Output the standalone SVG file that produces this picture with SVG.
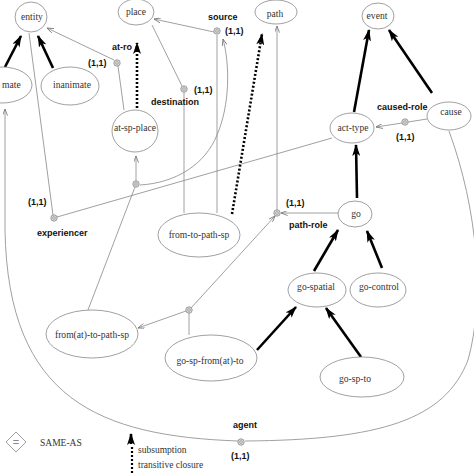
<svg xmlns="http://www.w3.org/2000/svg" width="474" height="474" viewBox="0 0 474 474">
<style>
.node ellipse{fill:#fff;stroke:#888;stroke-width:0.8}
.node text{font-family:"Liberation Serif",serif;font-size:9.6px;fill:#333;text-anchor:middle}
.role circle.o{fill:#ddd;stroke:#888;stroke-width:0.8}
.role circle.i{fill:none;stroke:#888;stroke-width:0.6}
.lbl{font-family:"Liberation Sans",sans-serif;font-weight:bold;font-size:9px;fill:#111}
.thin{fill:none;stroke:#888;stroke-width:0.8}
.thina{fill:none;stroke:#888;stroke-width:0.8;marker-end:url(#thin)}
.thick{fill:none;stroke:#000;stroke-width:2.6;marker-end:url(#thick)}
.dot{fill:none;stroke:#000;stroke-width:2.6;stroke-dasharray:2 2;marker-end:url(#thick)}
.leg{font-family:"Liberation Serif",serif;font-size:9.5px;fill:#333}
</style>
<defs>
<marker id="thick" viewBox="0 0 12 8" refX="11" refY="4" markerWidth="12" markerHeight="8" markerUnits="userSpaceOnUse" orient="auto"><path d="M0,0 L12,4 L0,8 L3,4 z" fill="#000"/></marker>
<marker id="thin" viewBox="0 0 8 6" refX="8" refY="3" markerWidth="7" markerHeight="5" markerUnits="userSpaceOnUse" orient="auto"><path d="M0,0 L8,3 L0,6" fill="none" stroke="#777" stroke-width="1"/></marker>
</defs>
<rect width="474" height="474" fill="#fff"/>

<g id="connectors">
<line class="thina" x1="114" y1="60" x2="47" y2="28"/>
<line class="thin" x1="124" y1="110" x2="118" y2="66"/>
<line class="thina" x1="214" y1="32" x2="154" y2="19"/>
<line class="thin" x1="182" y1="86" x2="152" y2="25"/>
<line class="thin" x1="184" y1="92" x2="184" y2="213"/>
<line class="thin" x1="217" y1="35" x2="217" y2="213"/>
<line class="thina" x1="277" y1="210" x2="277" y2="26"/>
<line class="thin" x1="57" y1="217" x2="332" y2="138"/>
<line class="thin" x1="53" y1="215" x2="29" y2="33"/>
<line class="thina" x1="136" y1="181" x2="136" y2="156"/>
<path class="thina" d="M140,185 C175,183 205,165 217,135 C230,105 230,65 223,39"/>
<line class="thin" x1="88" y1="310" x2="135" y2="187"/>
<line class="thina" x1="338" y1="213" x2="281" y2="213"/>
<line class="thina" x1="191" y1="308" x2="275" y2="216"/>
<line class="thina" x1="186" y1="311" x2="138" y2="328"/>
<line class="thin" x1="189" y1="335" x2="189" y2="313"/>
<line class="thin" x1="427" y1="119" x2="408" y2="122"/>
<line class="thina" x1="402" y1="123" x2="376" y2="127"/>
<path class="thina" d="M238,441 C100,436 8,400 5,230 L5,109"/>
<path class="thin" d="M449,131 C478,210 485,300 468,360 C445,420 380,440 245,441"/>

<line class="thick" x1="5" y1="67" x2="21" y2="36"/>
<line class="thick" x1="53" y1="68" x2="38" y2="36"/>
<line class="thick" x1="354" y1="112" x2="369" y2="30"/>
<line class="thick" x1="432" y1="93" x2="389" y2="30"/>
<line class="thick" x1="357" y1="198" x2="356" y2="145"/>
<line class="thick" x1="314" y1="271" x2="338" y2="230"/>
<line class="thick" x1="382" y1="268" x2="367" y2="231"/>
<line class="thick" x1="257" y1="350" x2="296" y2="307"/>
<line class="thick" x1="361" y1="357" x2="326" y2="308"/>

<line class="dot" x1="137" y1="108" x2="137" y2="43"/>
<line class="dot" x1="232" y1="214" x2="262" y2="34"/>
</g>

<g id="entity" class="node"><ellipse cx="31" cy="17" rx="16" ry="15"/><text x="32" y="20">entity</text></g>
<g id="place" class="node"><ellipse cx="136" cy="12" rx="18" ry="13"/><text x="136" y="15">place</text></g>
<g id="path" class="node"><ellipse cx="276" cy="12" rx="21" ry="12"/><text x="275" y="17">path</text></g>
<g id="event" class="node"><ellipse cx="378" cy="16" rx="16" ry="13"/><text x="377" y="19">event</text></g>
<g id="animate" class="node"><ellipse cx="2" cy="85" rx="30" ry="18"/><text x="2" y="88" style="text-anchor:start">mate</text></g>
<g id="inanimate" class="node"><ellipse cx="70" cy="86" rx="29" ry="19"/><text x="72" y="88">inanimate</text></g>
<g id="at-sp-place" class="node"><ellipse cx="135" cy="131" rx="23" ry="21"/><text x="135" y="131">at-sp-place</text></g>
<g id="from-to-path-sp" class="node"><ellipse cx="199" cy="235" rx="41" ry="22"/><text x="199" y="238">from-to-path-sp</text></g>
<g id="act-type" class="node"><ellipse cx="352" cy="128" rx="22" ry="15"/><text x="353" y="131">act-type</text></g>
<g id="cause" class="node"><ellipse cx="449" cy="116" rx="22" ry="14"/><text x="451" y="115">cause</text></g>
<g id="go" class="node"><ellipse cx="355" cy="214" rx="17" ry="13"/><text x="356" y="217">go</text></g>
<g id="go-spatial" class="node"><ellipse cx="317" cy="290" rx="29" ry="17"/><text x="316" y="290">go-spatial</text></g>
<g id="go-control" class="node"><ellipse cx="378" cy="290" rx="28" ry="17"/><text x="379" y="290">go-control</text></g>
<g id="from-at-to-path-sp" class="node"><ellipse cx="92" cy="334" rx="46" ry="24"/><text x="92" y="338">from(at)-to-path-sp</text></g>
<g id="go-sp-from-at-to" class="node"><ellipse cx="211" cy="358" rx="46" ry="23"/><text x="210" y="364">go-sp-from(at)-to</text></g>
<g id="go-sp-to" class="node"><ellipse cx="362" cy="377" rx="42" ry="20"/><text x="355" y="382">go-sp-to</text></g>

<g id="at-role" class="role"><circle class="o" cx="117" cy="63" r="3.2"/><circle class="i" cx="117" cy="63" r="1.4"/><text class="lbl" x="112" y="50">at-ro</text><text class="lbl" x="88" y="66">(1,1)</text></g>
<g id="source" class="role"><circle class="o" cx="217" cy="31" r="3.2"/><circle class="i" cx="217" cy="31" r="1.4"/><text class="lbl" x="208" y="20">source</text><text class="lbl" x="225" y="34">(1,1)</text></g>
<g id="destination" class="role"><circle class="o" cx="184" cy="89" r="3.2"/><circle class="i" cx="184" cy="89" r="1.4"/><text class="lbl" x="194" y="93">(1,1)</text><text class="lbl" x="151" y="105">destination</text></g>
<g id="experiencer" class="role"><circle class="o" cx="54" cy="218" r="3.2"/><circle class="i" cx="54" cy="218" r="1.4"/><text class="lbl" x="28" y="205">(1,1)</text><text class="lbl" x="37" y="236">experiencer</text></g>
<g id="at-sp-role" class="role"><circle class="o" cx="136" cy="184" r="3.2"/><circle class="i" cx="136" cy="184" r="1.4"/></g>
<g id="path-role" class="role"><circle class="o" cx="277" cy="213" r="3.2"/><circle class="i" cx="277" cy="213" r="1.4"/><text class="lbl" x="286" y="206">(1,1)</text><text class="lbl" x="289" y="228">path-role</text></g>
<g id="same-as" class="role"><circle class="o" cx="189" cy="310" r="3.2"/><circle class="i" cx="189" cy="310" r="1.4"/></g>
<g id="caused-role" class="role"><circle class="o" cx="405" cy="122" r="3.2"/><circle class="i" cx="405" cy="122" r="1.4"/><text class="lbl" x="377" y="110">caused-role</text><text class="lbl" x="396" y="140">(1,1)</text></g>
<g id="agent" class="role"><circle class="o" cx="241" cy="442" r="3.2"/><circle class="i" cx="241" cy="442" r="1.4"/><text class="lbl" x="233" y="428">agent</text><text class="lbl" x="231" y="459">(1,1)</text></g>

<g id="legend">
<polygon points="16,432 26,442 16,452 6,442" fill="#fff" stroke="#888" stroke-width="0.8"/>
<text x="16" y="446" style="font-family:'Liberation Sans',sans-serif;font-size:11px;fill:#888;text-anchor:middle">=</text>
<text class="leg" x="40" y="446">SAME-AS</text>
<line x1="131" y1="444" x2="131" y2="434" stroke="#000" stroke-width="2.6" marker-end="url(#thick)"/>
<line x1="132" y1="447" x2="132" y2="474" stroke="#000" stroke-width="2.2" stroke-dasharray="2 2"/>
<text class="leg" x="138" y="453">subsumption</text>
<text class="leg" x="138" y="468">transitive closure</text>
</g>
</svg>
